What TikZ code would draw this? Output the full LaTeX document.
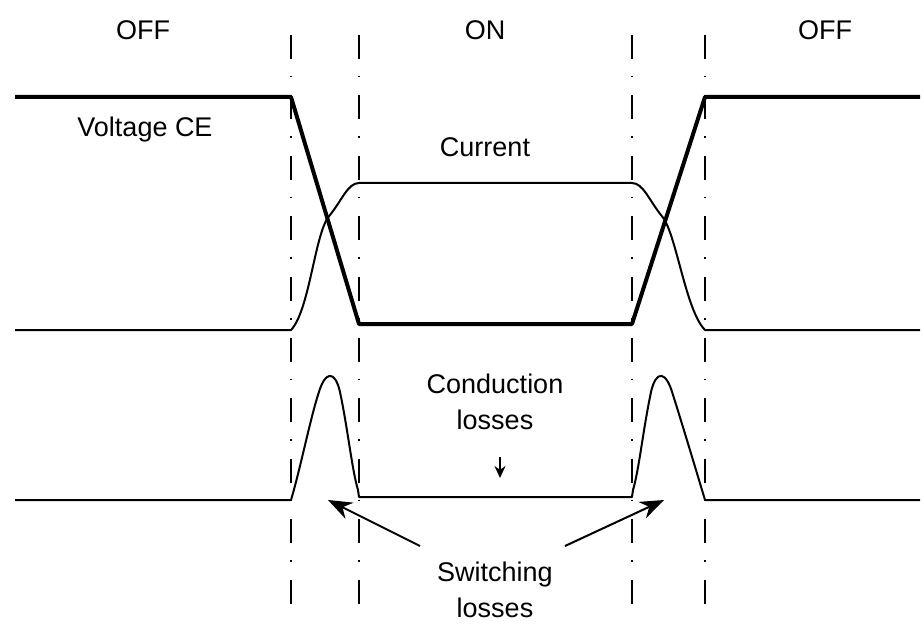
\documentclass[tikz,border=0pt]{standalone}
\usepackage{fontspec}
\setmainfont{Liberation Sans}
\usetikzlibrary{arrows.meta}
\begin{document}
\begin{tikzpicture}[x=1pt,y=-1pt,
  guide/.style={line width=1.5pt,dash pattern=on 24pt off 17pt on 1.5pt off 18pt},
  thick wave/.style={line width=4pt,line join=round},
  thin wave/.style={line width=2pt,line join=round},
  lbl/.style={font=\fontsize{27}{36}\selectfont,align=center},
  arr/.style={line width=2pt,-{Stealth[length=24pt,width=18pt]}}]
\useasboundingbox (0,0) rectangle (924,631);
\foreach \x/\n in {291/a,359/b,632/c,705/d}{
  \coordinate (t\n) at (\x,35); \coordinate (b\n) at (\x,605);
  \draw[guide] (t\n) -- (b\n);}
\node[lbl] (off1) at (143,30) {OFF};
\node[lbl] (on) at (485,30) {ON};
\node[lbl] (off2) at (825,30) {OFF};
\node[lbl] (vce) at (145,130) {Voltage CE};
\node[lbl] (cur) at (485,147) {Current};
\node[lbl] (cond) at (495,402) {Conduction\\losses};
\node[lbl] (sw) at (495,590) {Switching\\losses};
% current
\draw[thin wave] (15,330) -- (291,330) .. controls (310,310) and (315,230) .. (330,215)
  .. controls (342,200) and (348,183) .. (359,183) -- (632,183)
  .. controls (643,183) and (649,200) .. (661,215)
  .. controls (676,230) and (685,310) .. (705,330) -- (920,330);
% voltage
\draw[thick wave] (15,97) -- (291,97) -- (359,324) -- (632,324) -- (705,97) -- (920,97);
% losses
\draw[thin wave] (15,500) -- (291,500) .. controls (300,470) and (310,420) .. (318,395)
  .. controls (325,370) and (335,370) .. (340,392)
  .. controls (348,430) and (352,470) .. (358,490) -- (359,497) -- (632,497)
  -- (633,490) .. controls (639,470) and (643,430) .. (651,392)
  .. controls (656,370) and (666,370) .. (673,395)
  .. controls (681,420) and (696,470) .. (705,500) -- (920,500);
\coordinate (p1) at (328,500); \coordinate (p2) at (664,500);
\coordinate (cs) at (500,457); \coordinate (ca) at (500,478);
\coordinate (s1) at (420,546); \coordinate (s2) at (565,546);
\draw[line width=2pt,-{Stealth[length=12pt,width=11pt]}] (cs) -- (ca);
\draw[arr] (s1) -- (p1);
\draw[arr] (s2) -- (p2);
\end{tikzpicture}
\end{document}
